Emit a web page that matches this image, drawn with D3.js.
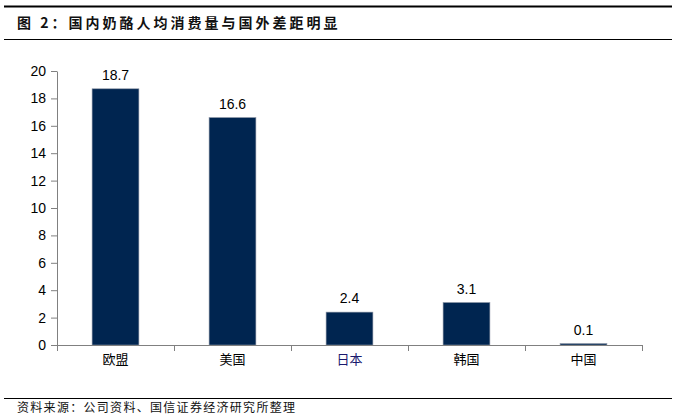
<!DOCTYPE html>
<html>
<head>
<meta charset="utf-8">
<script src="https://cdn.jsdelivr.net/npm/d3@7"></script>
<style>
  body { margin: 0; background: #fff; }
  svg { display: block; }
</style>
</head>
<body>
<svg id="chart" width="676" height="417"></svg>
<script>
// data
var categories = ["欧盟", "美国", "日本", "韩国", "中国"];
var values = [18.7, 16.6, 2.4, 3.1, 0.1];
var yTicks = [0, 2, 4, 6, 8, 10, 12, 14, 16, 18, 20];

var svg = d3.select("#chart");
var width = 676, height = 417;
var margin = {left: 57, right: 34, top: 71, bottom: 72};
var axisColor = "#808080";
var barColor = "#002550";

// header / footer rules
svg.append("line").attr("x1", 4).attr("x2", 672).attr("y1", 6.5).attr("y2", 6.5)
    .attr("stroke", "#000").attr("stroke-width", 2);
svg.append("line").attr("x1", 4).attr("x2", 672).attr("y1", 39.5).attr("y2", 39.5)
    .attr("stroke", "#000").attr("stroke-width", 1);
svg.append("line").attr("x1", 4).attr("x2", 672).attr("y1", 398.5).attr("y2", 398.5)
    .attr("stroke", "#000").attr("stroke-width", 1);

svg.append("text")
    .attr("x", 17).attr("y", 28)
    .attr("font-family", "'Noto Sans CJK SC', sans-serif")
    .attr("font-size", 14).attr("font-weight", "bold")
    .attr("letter-spacing", 3)
    .attr("fill", "#111")
    .text("图 2：国内奶酪人均消费量与国外差距明显");

svg.append("text")
    .attr("x", 17).attr("y", 412)
    .attr("font-family", "'Noto Sans CJK SC', sans-serif")
    .attr("font-size", 12)
    .attr("letter-spacing", 1.3)
    .attr("fill", "#111")
    .text("资料来源：公司资料、国信证券经济研究所整理");

// scales
var x = d3.scaleBand()
    .domain(categories)
    .range([margin.left, width - margin.right])
    .paddingInner(0.6).paddingOuter(0.3);

var y = d3.scaleLinear()
    .domain([0, 20])
    .range([height - margin.bottom, margin.top]);

var g = svg.append("g");

// bars
g.selectAll("rect.bar")
    .data(values)
    .enter().append("rect")
    .attr("class", "bar")
    .attr("x", function(d, i) { return x(categories[i]); })
    .attr("y", function(d) { return y(d); })
    .attr("width", x.bandwidth())
    .attr("height", function(d) { return y(0) - y(d); })
    .attr("fill", barColor)
    .attr("stroke", "#8a93a3")
    .attr("stroke-width", 0.6);

// value labels
g.selectAll("text.val")
    .data(values)
    .enter().append("text")
    .attr("class", "val")
    .attr("x", function(d, i) { return x(categories[i]) + x.bandwidth() / 2; })
    .attr("y", function(d) { return y(d) - 9; })
    .attr("text-anchor", "middle")
    .attr("font-family", "'Liberation Sans', Arial, sans-serif")
    .attr("font-size", 14)
    .attr("fill", "#000")
    .text(function(d) { return d.toFixed(1); });

// y axis
var yAxis = svg.append("g")
    .attr("transform", "translate(" + margin.left + ",0)")
    .call(d3.axisLeft(y).tickValues(yTicks).tickSize(6).tickPadding(5).tickSizeOuter(0));
yAxis.select(".domain").attr("stroke", axisColor);
yAxis.selectAll(".tick line").attr("stroke", axisColor);
yAxis.selectAll(".tick text")
    .attr("font-family", "'Liberation Sans', Arial, sans-serif")
    .attr("font-size", 14).attr("fill", "#000");

// x axis with ticks at band edges
var xAxis = svg.append("g")
    .attr("transform", "translate(0," + y(0) + ")");
xAxis.append("line")
    .attr("x1", margin.left).attr("x2", width - margin.right)
    .attr("y1", 0.5).attr("y2", 0.5)
    .attr("stroke", axisColor);
var step = x.step();
var edges = categories.map(function(c) { return x(c) - x.paddingInner() * step / 2; });
edges.push(width - margin.right);
xAxis.selectAll("line.tk")
    .data(edges)
    .enter().append("line")
    .attr("class", "tk")
    .attr("x1", function(d) { return Math.round(d) + 0.5; })
    .attr("x2", function(d) { return Math.round(d) + 0.5; })
    .attr("y1", 0).attr("y2", 6)
    .attr("stroke", axisColor);
xAxis.selectAll("text.cat")
    .data(categories)
    .enter().append("text")
    .attr("class", "cat")
    .attr("x", function(d) { return x(d) + x.bandwidth() / 2; })
    .attr("y", 19)
    .attr("text-anchor", "middle")
    .attr("font-family", "'Noto Sans CJK SC', sans-serif")
    .attr("font-size", 13)
    .attr("fill", function(d) { return d === "日本" ? "#1a1a6e" : "#000"; })
    .text(function(d) { return d; });
</script>
</body>
</html>
